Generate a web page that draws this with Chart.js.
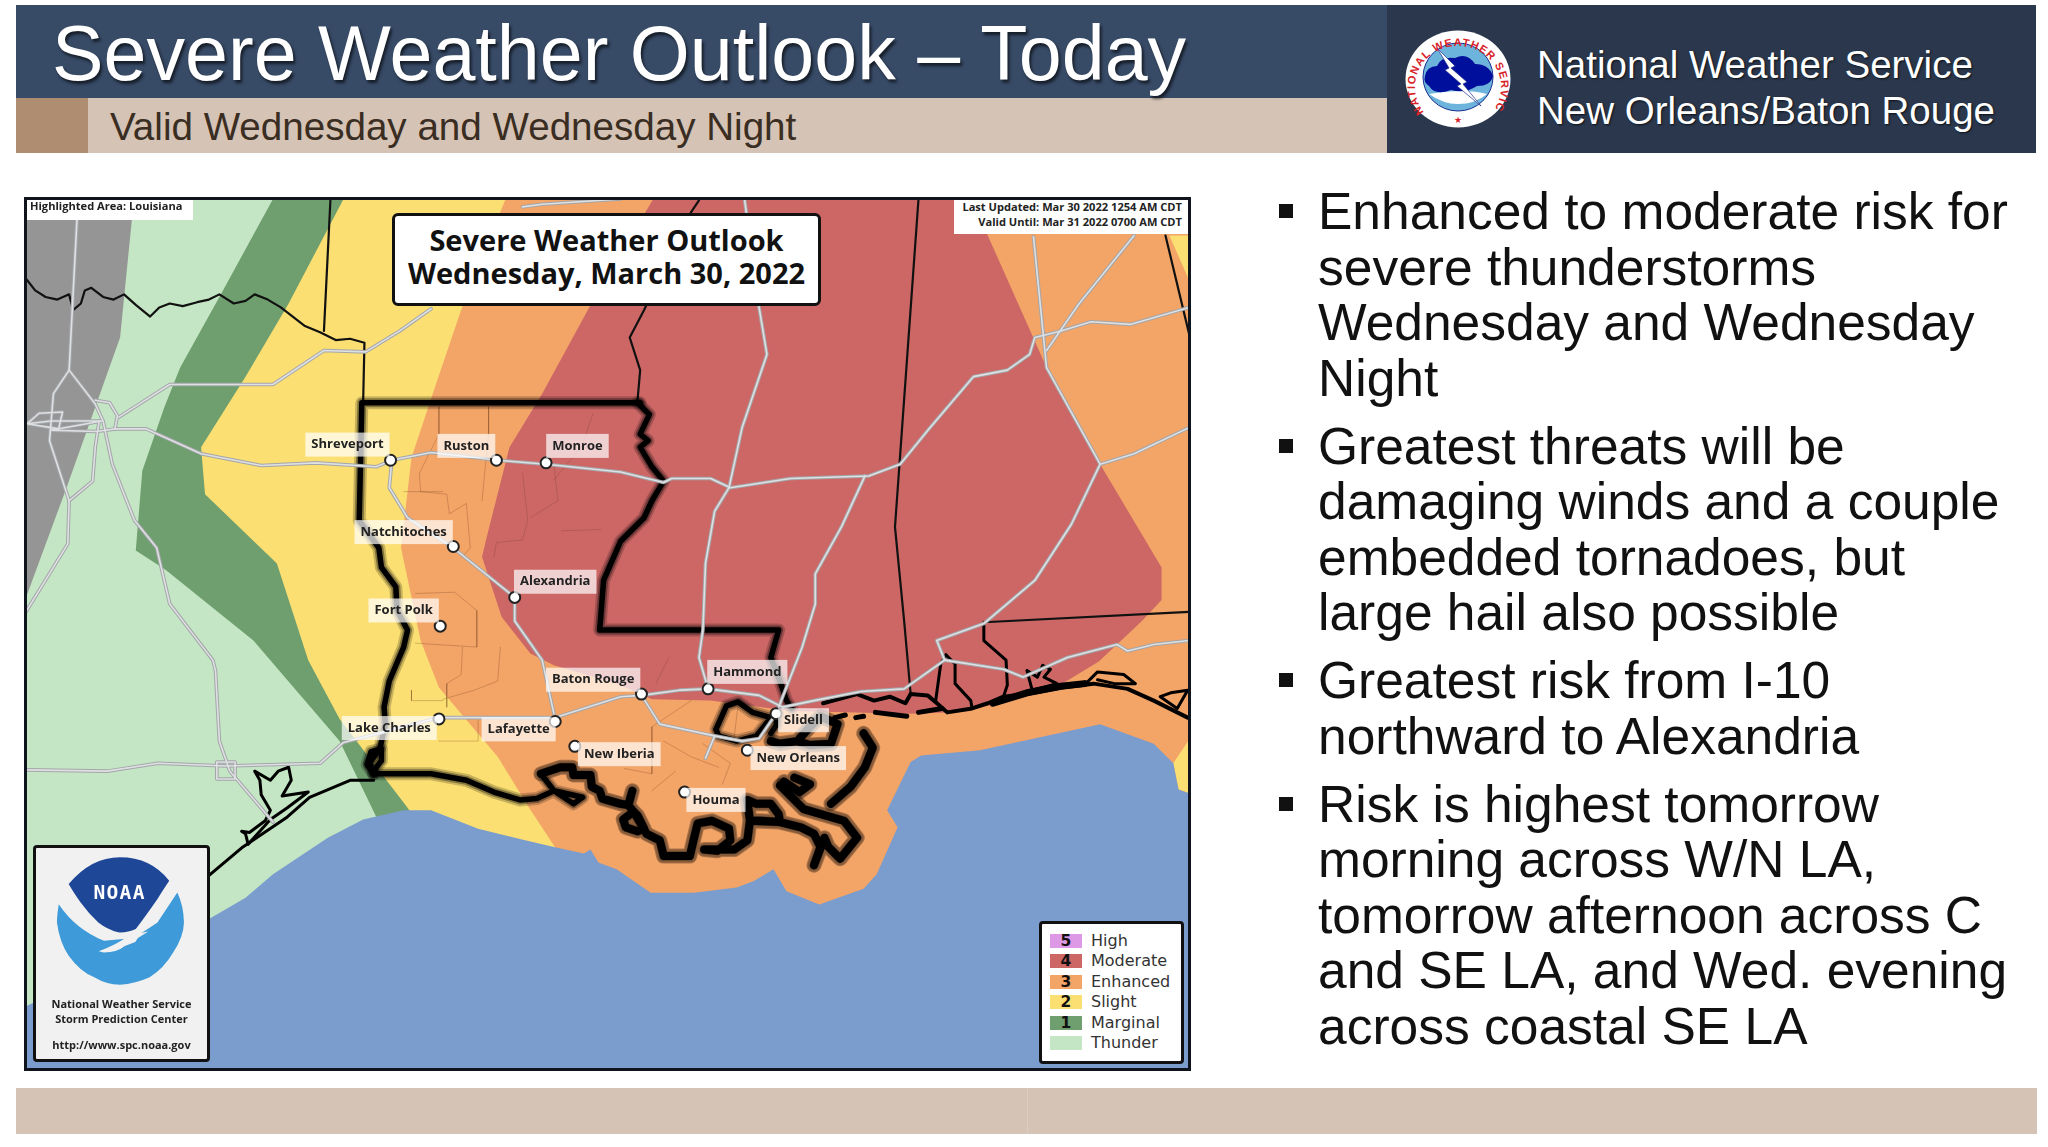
<!DOCTYPE html>
<html>
<head>
<meta charset="utf-8">
<title>Severe Weather Outlook</title>
<script src="https://cdn.jsdelivr.net/npm/chart.js@4"></script>
<style>
  html, body { margin: 0; padding: 0; background: #fff; }
  #page { position: relative; width: 2048px; height: 1147px; overflow: hidden; font-family: "Liberation Sans", Arial, sans-serif; }
  #page > div, #page > svg { position: absolute; }
  .bar-title { left: 16px; top: 5px; width: 1371px; height: 93px; background: #374a66; }
  .bar-sub { left: 16px; top: 98px; width: 1371px; height: 55px; background: #d5c3b5; }
  .bar-square { left: 16px; top: 98px; width: 72px; height: 55px; background: #ae8d70; }
  .bar-office { left: 1387px; top: 5px; width: 649px; height: 148px; background: #2a374c; }
  .bar-foot { left: 16px; top: 1088px; width: 2021px; height: 46px; background: #d5c3b5; }
  .bar-seam { left: 1027px; top: 1088px; width: 1px; height: 46px; background: #dccdc1; }
  .title { left: 52px; top: 9px; font-size: 77.2px; line-height: 88px; color: #fff; white-space: nowrap; text-shadow: 2px 3px 3px rgba(0,0,0,.6); }
  .subtitle { left: 110px; top: 104px; font-size: 38.6px; line-height: 46px; color: #3a2d22; white-space: nowrap; }
  .office { left: 1537px; top: 42px; font-size: 38.5px; line-height: 46px; color: #fff; white-space: nowrap; text-shadow: 1px 1px 2px rgba(0,0,0,.7); }
  .map-frame { left: 24px; top: 197px; width: 1167px; height: 874px; border: 0; outline: 3px solid #10141c; outline-offset: -3px; pointer-events: none; }
  #mapWrap { left: 26px; top: 199px; width: 1163px; height: 870px; }
  .stamp { background: #fff; color: #222; font-family: "Open Sans", sans-serif; font-weight: 700; font-size: 11.1px; line-height: 15px; white-space: nowrap; }
  .stamp-left { left: 26px; top: 199px; width: 167px; height: 21px; padding: 0; }
  .stamp-left span { position: absolute; left: 4px; top: -1px; }
  .stamp-right { left: 954px; top: 199px; width: 235px; height: 35px; text-align: right; }
  .stamp-right span { position: absolute; right: 7px; }
  .map-title { left: 392px; top: 213px; width: 429px; height: 93px; box-sizing: border-box; background: #fff; border: 3px solid #111; border-radius: 6px; text-align: center; font-family: "Open Sans", sans-serif; font-weight: 700; font-size: 29px; line-height: 33px; color: #111; padding-top: 7px; white-space: nowrap; }
  .noaa { left: 33px; top: 845px; width: 177px; height: 217px; box-sizing: border-box; background: #f1f1f1; border: 3px solid #111; border-radius: 4px; }
  .noaa-text { position: absolute; left: 0; width: 171px; text-align: center; font-family: "Open Sans", sans-serif; font-weight: 700; font-size: 11px; line-height: 15px; color: #222; white-space: nowrap; }
  .legend { left: 1039px; top: 921px; width: 145px; height: 143px; box-sizing: border-box; background: #fff; border: 3px solid #111; border-radius: 4px; }
  .legend-row { position: absolute; left: 8px; height: 20px; font-family: "DejaVu Sans", sans-serif; font-size: 16px; line-height: 20px; color: #333; white-space: nowrap; }
  .legend-swatch { position: absolute; left: 0; top: 3px; width: 32px; height: 14px; text-align: center; font-weight: 700; font-size: 15.5px; line-height: 15px; color: #111; }
  .legend-name { position: absolute; left: 41px; top: 0; }
  .points { left: 1318px; top: 184px; font-size: 51.5px; line-height: 55.5px; color: #111; white-space: nowrap; }
  .points p { margin: 0 0 12.5px 0; position: relative; }
  .points p::before { content: ""; position: absolute; left: -39px; top: 20px; width: 14px; height: 14px; background: #111; }
</style>
</head>
<body>
<div id="page">
  <div class="bar-title"></div>
  <div class="bar-sub"></div>
  <div class="bar-square"></div>
  <div class="bar-office"></div>
  <div class="title">Severe Weather Outlook – Today</div>
  <div class="subtitle">Valid Wednesday and Wednesday Night</div>
  <div class="office">National Weather Service<br>New Orleans/Baton Rouge</div>

  <svg style="left:1405px;top:30px" width="106" height="98" viewBox="0 0 106 98">
    <ellipse cx="53" cy="49" rx="52.5" ry="48.5" fill="#fff"/>
    <ellipse cx="53" cy="47" rx="35" ry="34" fill="#6db4dc" stroke="#1c2f8f" stroke-width="1"/>
    <path d="M24 64 Q38 74 53 74 Q70 74 82 64 Q60 58 24 64Z" fill="#fff"/>
    <path d="M20 46 Q22 36 32 36 Q36 26 50 28 Q62 22 70 34 Q84 34 88 46 Q86 56 72 56 Q60 64 46 60 Q30 66 24 56 Q18 52 20 46Z" fill="#000f9c"/>
    <path d="M32 18 L50 36 L46 38 L62 52 L58 54 L76 76 L52 56 L56 54 L40 40 L44 38Z" fill="#fff" stroke="#1c2f8f" stroke-width=".7"/>
    <path id="ring" d="M19 82 A43 41 0 1 1 87 82" fill="none"/>
    <text font-family="'Liberation Sans'" font-weight="700" font-size="11" fill="#d8232a" letter-spacing="1.1"><textPath href="#ring" startOffset="0%">NATIONAL WEATHER SERVICE</textPath></text>
    <text x="53" y="93" text-anchor="middle" font-size="9" fill="#d8232a" font-family="'DejaVu Sans'">★</text>
  </svg>

  <div id="mapWrap"><canvas id="outlookMap" width="1163" height="870"></canvas></div>

  <div class="stamp stamp-left"><span>Highlighted Area: Louisiana</span></div>
  <div class="stamp stamp-right"><span style="top:0">Last Updated: Mar 30 2022 1254 AM CDT</span><span style="top:15px">Valid Until: Mar 31 2022 0700 AM CDT</span></div>
  <div class="map-title">Severe Weather Outlook<br>Wednesday, March 30, 2022</div>

  <div class="noaa">
    <svg style="position:absolute;left:-3px;top:-3px" width="177" height="217" viewBox="25.7 647.7 135.5 166.2">
      <path d="M45.4 693 Q44 702 44 707 Q46 722 53 732.5 Q62 745 72.6 749 Q82 754.7 92.3 754.7 Q104 754 115 749 Q126 742 133 730 Q141 718 141.3 707 Q141 694 136.2 684 L121 707 L103 719 L80 721 Q58 712 45.4 693Z" fill="#3e9ad8"/>
      <path d="M53 677.6 Q70 657 92.3 657 Q116 657 130 675 Q124 684 121 689 Q112 702 104.4 712 Q98 715 90.8 714.6 Q82 712 75.7 707 Q68 700 62 691.6 Q56 683 53 677.6Z" fill="#1f4797"/>
      <path d="M76 729 Q90 724 99 717 L114 714 L106 719 L104 722 L96 725 Q90 730 80 730Z" fill="#f1f1f1"/>
      <text x="92" y="689" text-anchor="middle" font-family="'DejaVu Sans Mono'" font-weight="700" font-size="15" letter-spacing="1" fill="#fff">NOAA</text>
    </svg>
    <div class="noaa-text" style="top:148px">National Weather Service</div>
    <div class="noaa-text" style="top:163px">Storm Prediction Center</div>
    <div class="noaa-text" style="top:189px">http://www.spc.noaa.gov</div>
  </div>

  <div class="legend" id="legendBox"></div>

  <div class="map-frame"></div>

  <div class="points">
    <p>Enhanced to moderate risk for<br>severe thunderstorms<br>Wednesday and Wednesday<br>Night</p>
    <p>Greatest threats will be<br>damaging winds and a couple<br>embedded tornadoes, but<br>large hail also possible</p>
    <p>Greatest risk from I-10<br>northward to Alexandria</p>
    <p>Risk is highest tomorrow<br>morning across W/N LA,<br>tomorrow afternoon across C<br>and SE LA, and Wed. evening<br>across coastal SE LA</p>
  </div>

  <div class="bar-foot"></div>
  <div class="bar-seam"></div>
</div>

<script>
const gridX = [20, 910];
const gridY = [152, 818];

// outlook categories
const noThunderArea = [[20,152],[104,152],[101,168],[92,258],[51,373],[20,457]];
const marginalArea = [[209,152],[168,227],[138,281],[126,311],[109,360],[104,421],[127,436],[194,490],[260,567],[289,627],[320,660],[910,740],[910,152]];
const slightArea = [[263,152],[221,232],[188,288],[154,342],[157,378],[212,431],[236,505],[260,550],[312,618],[340,660],[910,740],[910,152]];
const enhancedArea = [[387,152],[353,237],[333,296],[315,350],[307,419],[322,490],[336,526],[381,579],[405,618],[426,650],[470,720],[910,740],[910,152]];
const moderateArea = [[500,152],[451,235],[415,301],[390,342],[372,413],[369,426],[384,472],[406,500],[424,509],[472,523],[499,535],[544,536],[605,544],[696,546],[726,545],[762,539],[813,523],[841,506],[874,475],[889,459],[889,434],[842,355],[801,281],[756,180],[745,152]];
const slightTopRight = [[895,180],[910,180],[910,214]];
const slightSliver = [[910,566],[898,584],[902,604],[910,607]];
const gulfWater = [[20,818],[20,770],[162,702],[188,687],[209,669],[251,641],[278,627],[309,620],[330,620],[366,634],[398,642],[424,648],[447,653],[452,650],[458,660],[472,665],[498,683],[531,683],[564,679],[577,674],[592,665],[602,682],[627,692],[661,680],[671,669],[687,633],[679,620],[697,583],[705,578],[750,574],[842,554],[883,569],[898,584],[902,604],[910,607],[910,818]];

// borders
const laBorderWest = [[490,308],[277,308],[275,398],[290,419],[292,434],[303,449],[304,467],[312,482],[309,495],[298,521],[294,541],[295,554],[291,572],[283,584],[286,592]];
const calcasieuLake = [[286,592],[281,585],[284,575],[292,573],[292,582],[286,590]];
const laCoast = [[286,592],[330,592],[357,597],[378,606],[398,612],[411,611],[424,605],[439,615],[446,610],[424,605],[414,592],[429,587],[438,587],[439,593],[452,593],[453,602],[459,605],[461,611],[475,615],[481,616],[484,605],[481,616],[485,621],[477,627],[479,633],[488,636],[493,634],[488,624],[485,621],[495,638],[505,643],[508,655],[528,655],[532,638],[534,630],[545,628],[558,634],[559,643],[549,651],[539,650],[562,650],[572,643],[574,628],[572,612],[579,615],[590,615],[596,623],[597,629],[582,628],[574,628],[597,629],[613,633],[623,638],[628,648],[623,662],[631,641],[634,648],[643,657],[656,641],[646,628],[615,619],[597,601]];
const laBorderEast = [[488,308],[497,317],[490,332],[496,337],[490,342],[499,357],[508,368],[499,383],[493,396],[475,414],[462,444],[459,482],[596,482],[590,503],[597,521],[602,536],[606,542]];
const pontchartrain = [[548,558],[556,540],[565,537],[576,545],[590,549],[579,563],[564,567],[550,563],[548,558]];
const borgneMarsh = [[590,567],[597,569],[610,567],[620,570],[636,569],[641,554],[628,548],[620,556],[612,565]];
const slidellMarsh = [[595,546],[594,555],[590,561]];
const deltaBlob = [[608,595],[620,600],[612,606],[600,598]];
const chandeleurArc = [[661,561],[668,572],[662,587],[651,602],[636,615]];
const gulfCoastEast = [[630,538],[656,531],[669,536],[681,533],[693,538],[697,531],[710,532],[716,537],[725,545],[744,542],[756,538],[768,533],[786,531],[812,526],[837,523],[863,527],[883,536],[909,549]];
const coastThick = [[760,538],[786,530],[812,525],[830,523]];
const barrierIslands = [[[639,549],[647,547]],[[655,549],[661,548]],[[670,545],[694,548]],[[703,545],[721,542]]];
const pascagoulaBay = [[716,537],[720,508],[724,501]];
const mobileBay = [[724,501],[731,508],[731,523],[743,536],[744,542]];
const perdidoRiver = [[753,476],[753,490],[770,505],[771,524],[768,533]];
const pensacolaBay = [[786,513],[794,518],[798,509],[804,512],[799,518],[809,523],[790,528],[786,513]];
const choctawBay = [[832,522],[840,514],[860,516],[869,523],[853,523],[840,520]];
const stAndrewBay = [[888,533],[896,530],[909,528],[901,542],[888,533]];
const texasCoast = [[286,597],[268,597],[237,610],[220,625],[186,648],[161,669],[150,676]];
const galvestonBay = [[190,646],[188,638],[185,636],[191,637],[203,628],[207,620],[200,608],[199,597],[195,590],[207,597],[213,590],[221,587],[223,597],[216,609],[236,606],[220,618],[207,627],[190,646]];
const redRiver = [[20,213],[27,222],[35,227],[44,229],[53,225],[56,237],[62,232],[65,222],[70,220],[79,227],[87,229],[95,225],[104,233],[115,242],[122,235],[130,232],[140,234],[151,231],[160,229],[168,225],[179,232],[188,230],[195,225],[205,229],[215,235],[233,249],[245,254],[257,260],[268,259],[279,262],[278,308]];
const arkansasWest = [[253,152],[248,253]];
const mississippiRiver = [[535,153],[529,162],[493,237],[482,258],[490,283],[488,306]];
const mississippiEast = [[703,152],[685,403],[692,475],[697,531]];
const georgiaLine = [[892,180],[910,255]];
const floridaLine = [[910,468],[753,476]];

// highways
const i20 = [[88,328],[112,328],[154,347],[200,356],[242,354],[288,357],[300,352],[330,346],[381,352],[418,355],[475,361],[508,369],[514,366],[544,366],[559,373],[605,366],[665,364],[689,355],[711,328],[745,288],[771,283],[788,271],[792,258],[812,253],[835,246],[865,248],[910,235]];
const texarkanaRoad = [[91,319],[130,294],[209,294],[248,268],[280,269],[306,253],[330,236]];
const i35North = [[59,168],[53,283],[41,301],[38,337],[53,383],[52,416],[20,468]];
const i45South = [[53,283],[73,309],[79,322],[86,355],[103,398],[120,419],[130,462],[163,505],[165,513],[168,567],[176,590],[209,629]];
const wacoRoad = [[76,322],[73,342],[71,368],[53,383]];
const dallasLoop = [[21,324],[30,316],[48,315],[45,328],[21,324],[39,322],[78,322],[39,329],[74,330],[88,328],[90,318],[84,308],[73,306]];
const i10 = [[20,589],[82,590],[121,584],[173,586],[245,584],[263,568],[336,549],[425,549],[475,533],[491,532],[520,528],[542,527],[581,532],[599,541],[623,536],[659,529],[692,527],[723,505],[768,512],[783,518],[817,503],[855,493],[863,498],[883,493],[910,490]];
const i10NewOrleans = [[491,532],[505,554],[547,563],[568,567],[581,565],[594,546]];
const i49 = [[300,352],[298,373],[312,396],[347,419],[394,457],[394,475],[415,505],[424,546]];
const i55 = [[542,527],[535,503],[538,482],[540,431],[547,391],[558,373],[568,327],[587,271],[581,235],[570,153]];
const i59 = [[594,546],[614,495],[624,462],[624,439],[644,403],[662,364]];
const i65 = [[723,505],[717,490],[753,477],[792,444],[820,401],[842,355],[801,281],[791,181]];
const i85 = [[842,355],[868,347],[910,327]];
const i22 = [[801,268],[826,232],[868,180]];
const topRoad = [[400,158],[415,156],[475,152]];
const houstonLoop = [[166,583],[166,596],[180,596],[180,583],[166,583]];
const i10Spur = [[547,563],[540,580]];

// parish lines
const parishLines = [
  [[336,311],[336,332],[321,362],[322,376],[342,378],[344,393],[357,385],[360,419],[354,426]],
  [[374,311],[374,332],[371,362],[369,383]],
  [[309,376],[339,376]],
  [[424,355],[427,383],[406,396]],
  [[400,362],[404,398],[400,413],[380,415],[378,426]],
  [[454,316],[445,342],[424,367]],
  [[430,406],[460,405]],
  [[318,454],[348,453],[365,467],[365,495],[318,492]],
  [[354,495],[353,516],[342,523],[342,541]],
  [[383,495],[381,521],[363,528],[339,535]],
  [[315,528],[315,536],[339,536]],
  [[336,567],[366,567],[366,551]],
  [[512,503],[502,523]],
  [[529,536],[499,556],[499,592],[478,588]],
  [[508,567],[529,579],[550,587]],
  [[517,590],[499,605]],
  [[538,569],[559,584],[553,600]],
  [[565,538],[562,564]]
];

// cities
const cityNames = ["Shreveport","Ruston","Monroe","Natchitoches","Alexandria","Fort Polk","Baton Rouge","Hammond","Lake Charles","Lafayette","New Iberia","Slidell","New Orleans","Houma"];
const cityPoints = [[299,352],[380,352],[418,354],[347,418],[394,457],[337,479],[491,531],[542,527],[336,550],[425,552],[440,571],[594,546],[572,574],[524,606]];
const cityLabelCenters = [[266,340],[357,341],[442,341],[309,407],[425,445],[309,467],[454,520],[572,514],[298,557],[397,558],[474,577],[615,551],[611,580],[548,612]];

// legend
const legendNames = ["High","Moderate","Enhanced","Slight","Marginal","Thunder"];
const legendNumbers = ["5","4","3","2","1",""];

const riskColors = {
  high: "#dd99e6",
  moderate: "#cd6766",
  enhanced: "#f3a467",
  slight: "#fbdf72",
  marginal: "#6f9f6f",
  thunder: "#c4e6c4",
  none: "#959595",
  water: "#7b9dcd"
};
const legendColors = [riskColors.high, riskColors.moderate, riskColors.enhanced, riskColors.slight, riskColors.marginal, riskColors.thunder];

const toPoints = (list) => list.map(([x, y]) => ({ x: x, y: y }));

const datasets = [];

function addArea(list, color) {
  datasets.push({ data: toPoints(list), showLine: true, fill: "shape", backgroundColor: color, borderColor: color, borderWidth: 0, pointRadius: 0, tension: 0 });
}
function addLine(list, color, width) {
  datasets.push({ data: toPoints(list), showLine: true, fill: false, borderColor: color, borderWidth: width, pointRadius: 0, tension: 0, borderJoinStyle: "round", borderCapStyle: "round" });
}

addArea(noThunderArea, riskColors.none);
addArea(marginalArea, riskColors.marginal);
addArea(slightArea, riskColors.slight);
addArea(enhancedArea, riskColors.enhanced);
addArea(moderateArea, riskColors.moderate);
addArea(slightTopRight, riskColors.slight);
addArea(slightSliver, riskColors.slight);
addArea(gulfWater, riskColors.water);

parishLines.forEach((line) => addLine(line, "rgba(110,60,30,0.28)", 1));

// other state lines and coast are thin, Louisiana gets the soft thick edge
[redRiver, arkansasWest, mississippiRiver, mississippiEast, georgiaLine, floridaLine].forEach((line) => addLine(line, "#111", 2.2));
[texasCoast, galvestonBay, pascagoulaBay, mobileBay, perdidoRiver, pensacolaBay, choctawBay, stAndrewBay].forEach((line) => addLine(line, "#000", 3));
addLine(gulfCoastEast, "#000", 4);
addLine(coastThick, "#000", 7);
barrierIslands.forEach((line) => addLine(line, "#000", 5));

const laLines = [laBorderWest, calcasieuLake, laCoast, laBorderEast, pontchartrain, borgneMarsh, slidellMarsh, deltaBlob, chandeleurArc];
laLines.forEach((line) => addLine(line, "rgba(0,0,0,0.2)", 13));
laLines.forEach((line) => addLine(line, "rgba(0,0,0,0.35)", 9));
laLines.forEach((line) => addLine(line, "#000", 5.5));

// the delta and the marsh read heavier than the rest of the outline
const heavyLines = [laCoast.slice(10), borgneMarsh, deltaBlob, chandeleurArc];
heavyLines.forEach((line) => addLine(line, "rgba(0,0,0,0.3)", 15));
heavyLines.forEach((line) => addLine(line, "#000", 8));

// highways over the borders
const roads = [i20, texarkanaRoad, i35North, i45South, wacoRoad, dallasLoop, i10, i10NewOrleans, i49, i55, i59, i65, i85, i22, topRoad, houstonLoop, i10Spur];
roads.forEach((line) => addLine(line, "#a3a6aa", 3.6));
roads.forEach((line) => addLine(line, "#dfe0e2", 1.6));

datasets.push({
  data: toPoints(cityPoints),
  pointRadius: 5.5,
  pointBackgroundColor: "#fff",
  pointBorderColor: "#222",
  pointBorderWidth: 2,
  showLine: false
});

// first dataset drawn at the bottom
datasets.forEach((ds, i) => { ds.order = datasets.length - i; });

const cityLabelPlugin = {
  id: "cityLabels",
  afterDatasetsDraw(chart) {
    const { ctx, scales } = chart;
    ctx.save();
    ctx.font = "700 13px 'Open Sans'";
    ctx.textAlign = "center";
    ctx.textBaseline = "middle";
    cityNames.forEach((name, i) => {
      const cx = scales.x.getPixelForValue(cityLabelCenters[i][0]);
      const cy = scales.y.getPixelForValue(cityLabelCenters[i][1]);
      const w = ctx.measureText(name).width + 12;
      ctx.fillStyle = "rgba(255,255,255,0.7)";
      ctx.fillRect(cx - w / 2, cy - 12, w, 24);
      ctx.fillStyle = "#222";
      ctx.fillText(name, cx, cy);
    });
    ctx.restore();
  }
};

// thunder is the whole land background
const thunderBackground = {
  id: "thunderBackground",
  beforeDatasetsDraw(chart) {
    const { ctx, chartArea } = chart;
    ctx.save();
    ctx.fillStyle = riskColors.thunder;
    ctx.fillRect(chartArea.left, chartArea.top, chartArea.width, chartArea.height);
    ctx.restore();
  }
};

new Chart(document.getElementById("outlookMap").getContext("2d"), {
  type: "scatter",
  data: { datasets: datasets },
  plugins: [thunderBackground, cityLabelPlugin],
  options: {
    responsive: false,
    animation: false,
    devicePixelRatio: 1,
    layout: { autoPadding: false, padding: 0 },
    plugins: { legend: { display: false }, tooltip: { enabled: false } },
    scales: {
      x: { type: "linear", min: gridX[0], max: gridX[1], display: false },
      y: { type: "linear", min: gridY[0], max: gridY[1], reverse: true, display: false }
    }
  }
});

// legend rows
const legendBox = document.getElementById("legendBox");
legendNames.forEach((name, i) => {
  const row = document.createElement("div");
  row.className = "legend-row";
  row.style.top = 7 + i * 20.4 + "px";
  row.innerHTML = `<div class="legend-swatch" style="background:${legendColors[i]}">${legendNumbers[i]}</div><div class="legend-name">${name}</div>`;
  legendBox.appendChild(row);
});
</script>
</body>
</html>
